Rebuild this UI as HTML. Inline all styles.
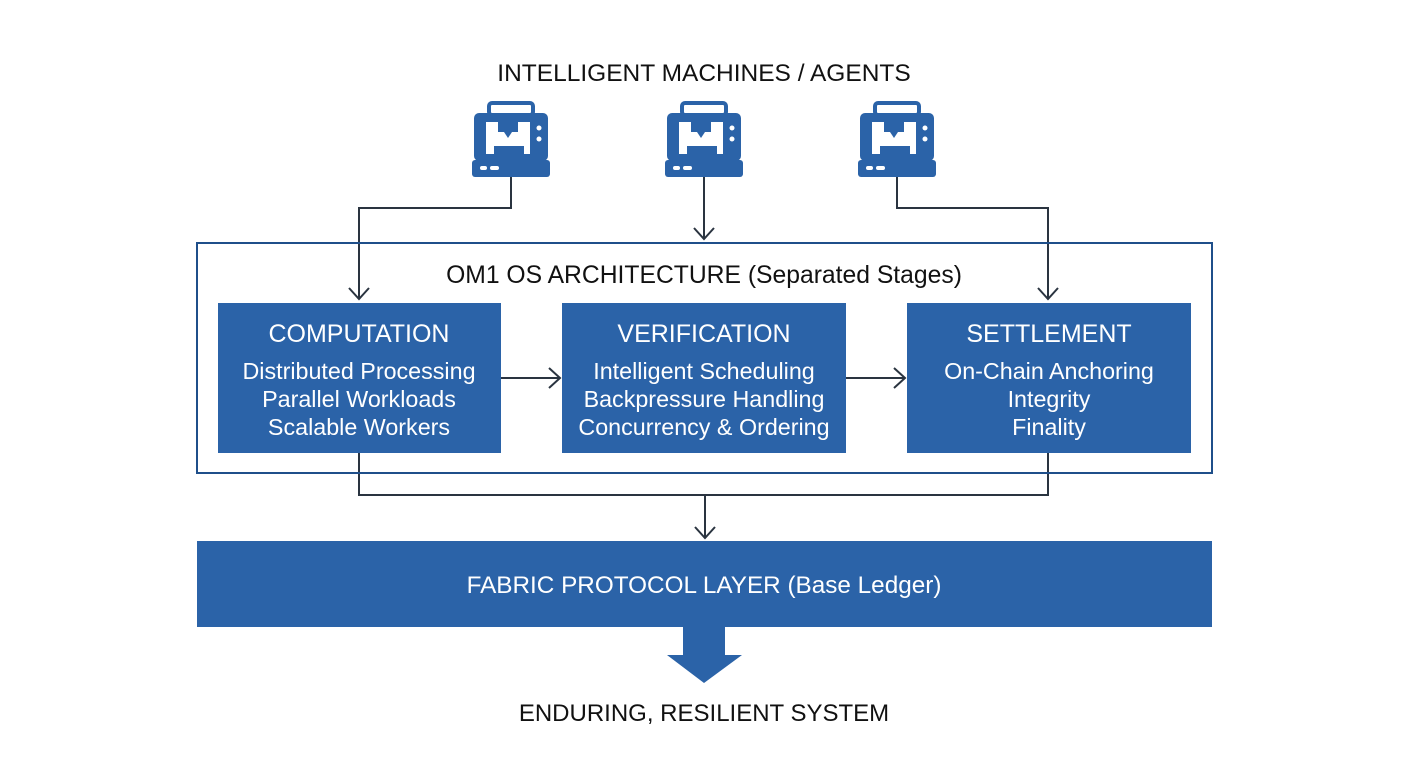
<!DOCTYPE html>
<html><head><style>
body{margin:0;background:#fff;width:1408px;height:768px;overflow:hidden;font-family:"Liberation Sans",sans-serif}
svg{display:block}
</style></head><body>
<svg width="1408" height="768" viewBox="0 0 1408 768">
<defs>
<g id="ic">
<rect x="-22" y="-73" width="44" height="12" rx="3" fill="none" stroke="#2b63a8" stroke-width="4"/>
<rect x="-37" y="-63" width="74" height="48" rx="5" fill="#2b63a8"/>
<path d="M-25,-54 H19 V-20 H-25 Z" fill="#fff"/>
<rect x="-13" y="-54" width="20" height="10" fill="#2b63a8"/>
<path d="M-7,-44 H1 L-3,-38 Z" fill="#2b63a8"/>
<rect x="-17" y="-30" width="30" height="10" fill="#2b63a8"/>
<rect x="-25" y="-22" width="44" height="6" fill="#2b63a8"/>
<circle cx="28" cy="-48" r="2.5" fill="#fff"/>
<circle cx="28" cy="-37" r="2.5" fill="#fff"/>
<rect x="-39" y="-16" width="78" height="17" rx="3" fill="#2b63a8"/>
<rect x="-31" y="-10" width="7" height="4" rx="2" fill="#fff"/>
<rect x="-21" y="-10" width="9" height="4" rx="2" fill="#fff"/>
</g>
</defs>
<text x="704" y="81" text-anchor="middle" font-size="24.5" fill="#111">INTELLIGENT MACHINES / AGENTS</text>
<use href="#ic" x="511" y="176"/>
<use href="#ic" x="704" y="176"/>
<use href="#ic" x="897" y="176"/>
<g fill="none" stroke="#2a3440" stroke-width="2">
<path d="M511,177 V208 H359 V298"/>
<path d="M704,177 V238"/>
<path d="M897,177 V208 H1048 V298"/>
<path d="M349,288 L359,299 L369,288"/>
<path d="M694,228 L704,239 L714,228"/>
<path d="M1038,288 L1048,299 L1058,288"/>
<path d="M501,378 H559 M549,368 L560,378 L549,388"/>
<path d="M846,378 H904 M894,368 L905,378 L894,388"/>
<path d="M359,453 V495 H1048 V453"/>
<path d="M705,495 V537 M695,527 L705,538 L715,527"/>
</g>
<rect x="197" y="243" width="1015" height="230" fill="none" stroke="#1f4f8a" stroke-width="2"/>
<text x="704" y="283" text-anchor="middle" font-size="24.7" fill="#111">OM1 OS ARCHITECTURE (Separated Stages)</text>
<g fill="#2b63a8">
<rect x="218" y="303" width="283" height="150"/>
<rect x="562" y="303" width="284" height="150"/>
<rect x="907" y="303" width="284" height="150"/>
<rect x="197" y="541" width="1015" height="86"/>
<path d="M683,627 H725 V655 H742 L704,683 L667,655 H683 Z"/>
</g>
<g fill="#fff" text-anchor="middle" font-size="23.3">
<text x="359" y="342" font-size="25">COMPUTATION</text>
<text x="359" y="379">Distributed Processing</text>
<text x="359" y="407">Parallel Workloads</text>
<text x="359" y="435">Scalable Workers</text>
<text x="704" y="342" font-size="25">VERIFICATION</text>
<text x="704" y="379">Intelligent Scheduling</text>
<text x="704" y="407">Backpressure Handling</text>
<text x="704" y="435">Concurrency &amp; Ordering</text>
<text x="1049" y="342" font-size="25">SETTLEMENT</text>
<text x="1049" y="379">On-Chain Anchoring</text>
<text x="1049" y="407">Integrity</text>
<text x="1049" y="435">Finality</text>
<text x="704" y="593" font-size="24.3">FABRIC PROTOCOL LAYER (Base Ledger)</text>
</g>
<text x="704" y="721" text-anchor="middle" font-size="24" fill="#111">ENDURING, RESILIENT SYSTEM</text>
</svg>
</body></html>
